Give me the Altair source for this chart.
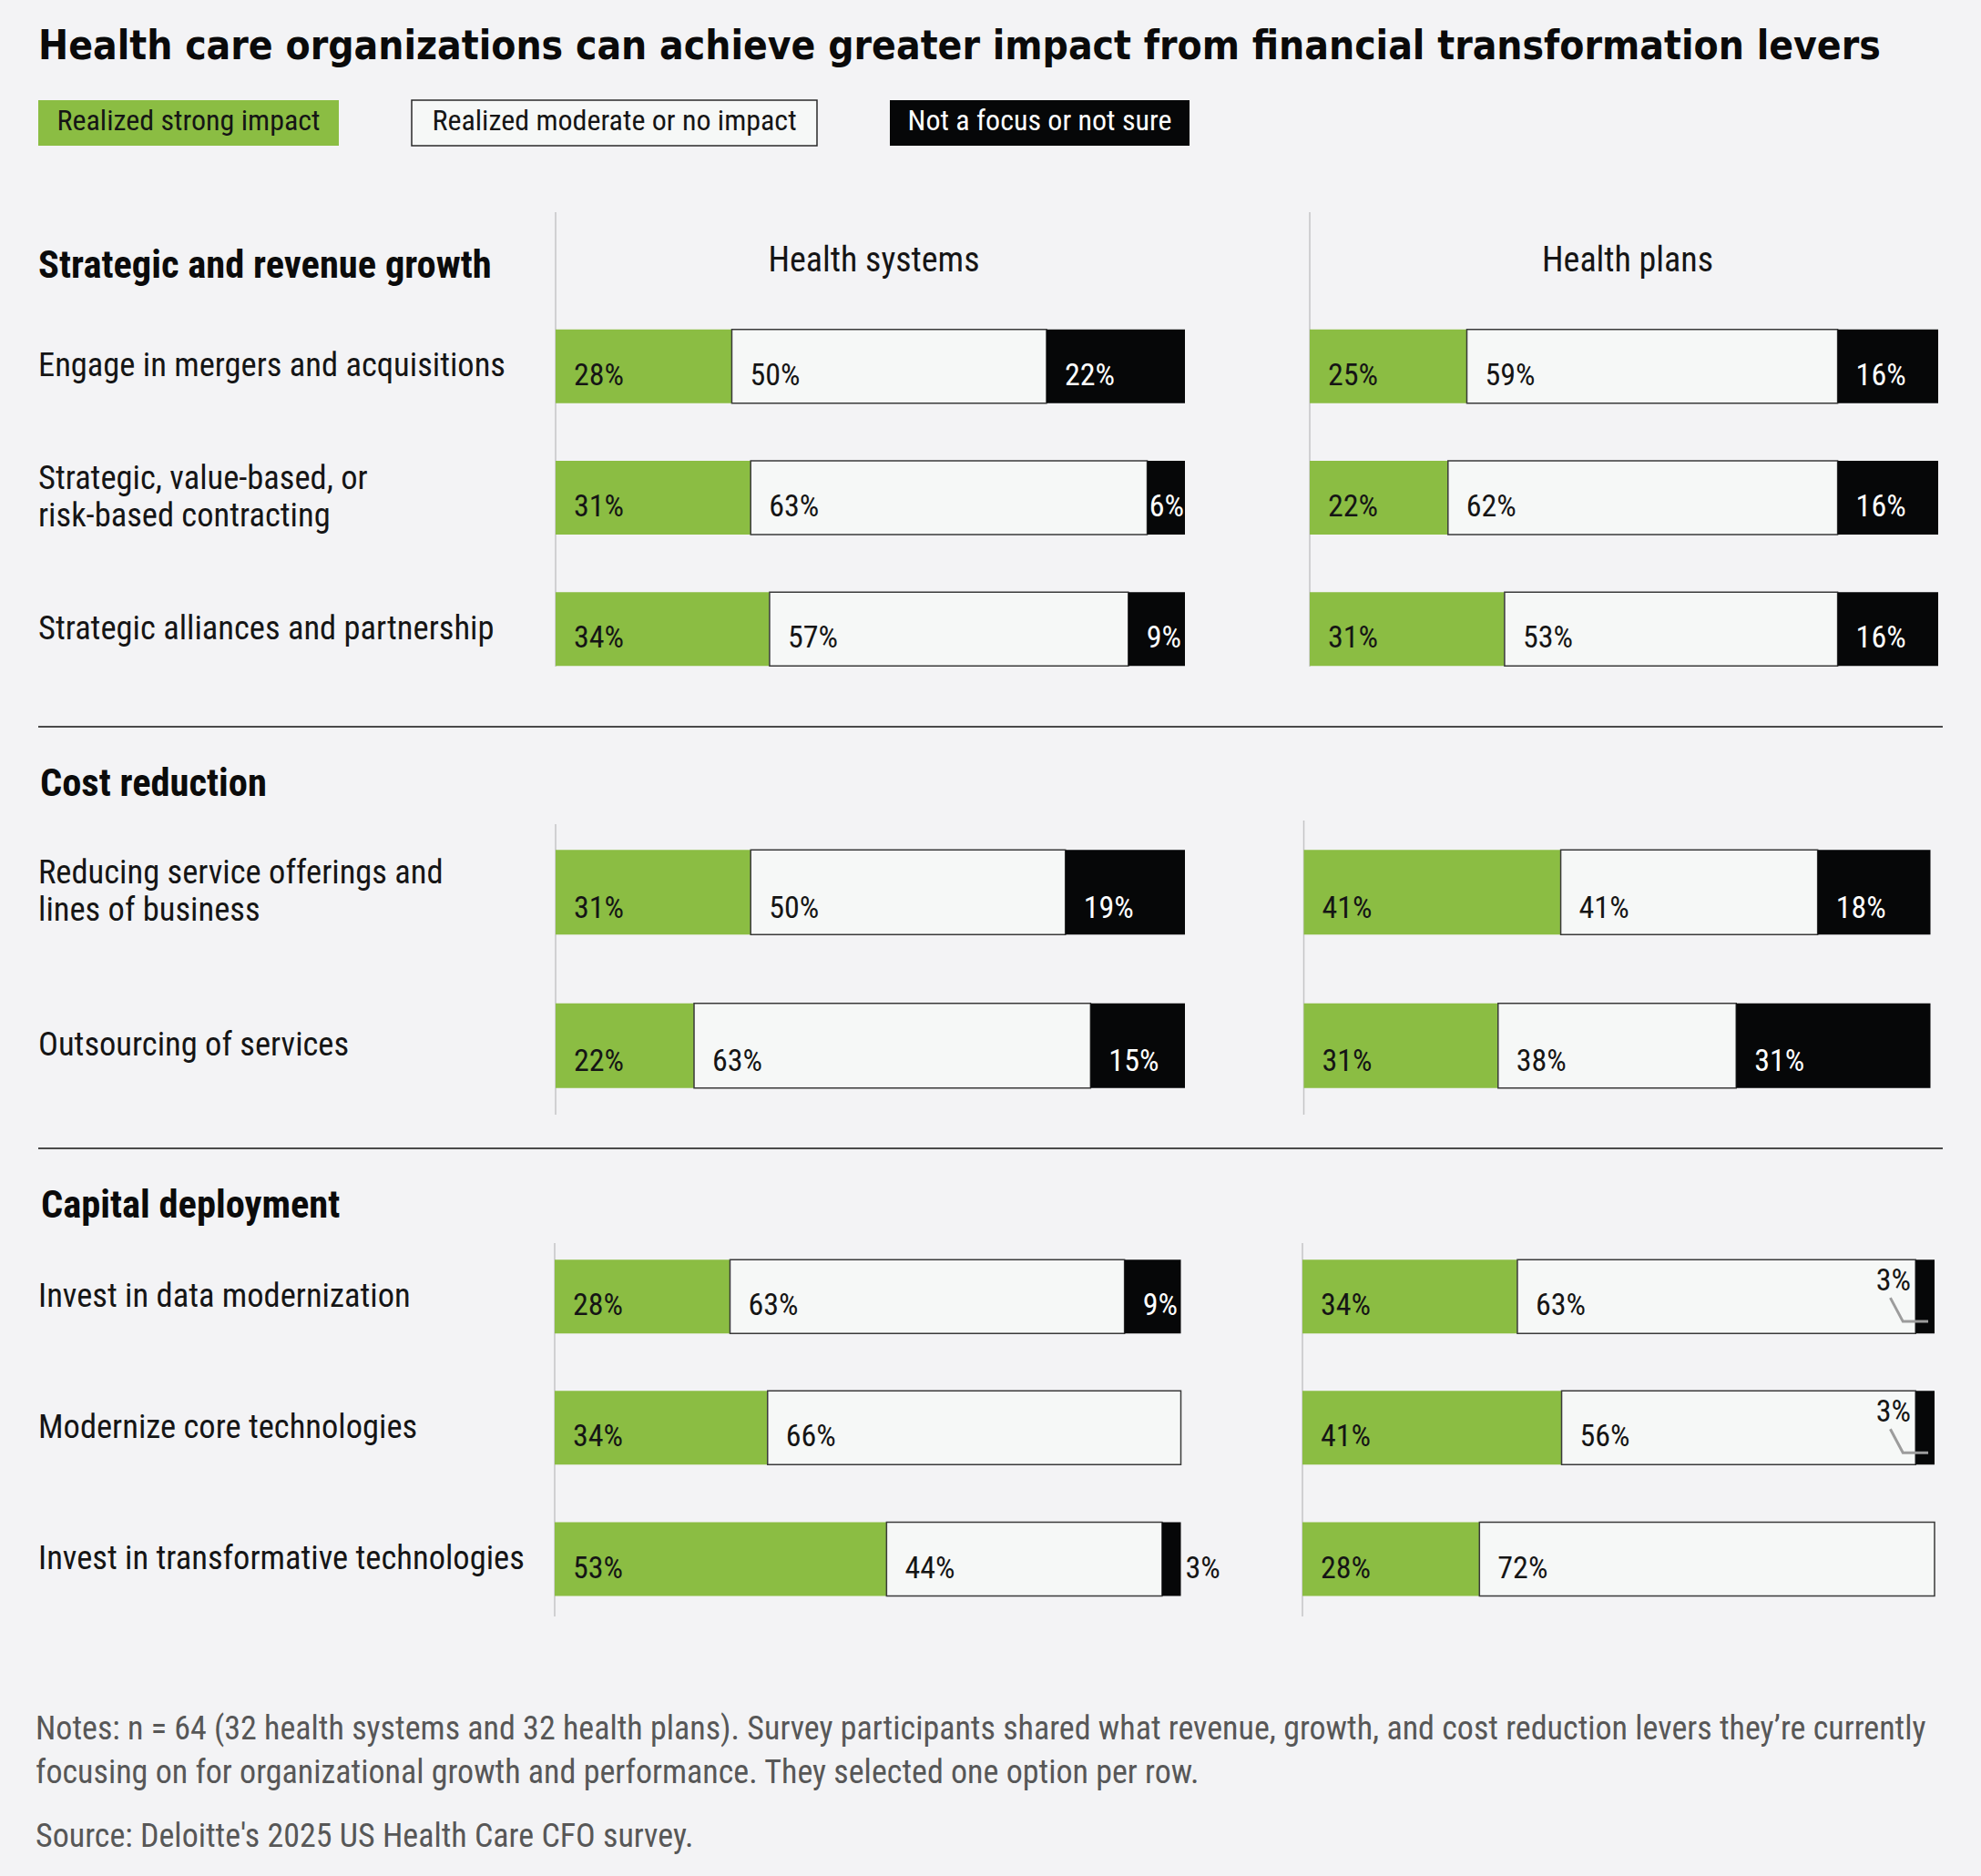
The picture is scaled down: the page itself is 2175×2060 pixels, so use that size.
import altair as alt
import pandas as pd

# ---------------- data ----------------
TITLE = "Health care organizations can achieve greater impact from financial transformation levers"
CATEGORIES = ["Realized strong impact", "Realized moderate or no impact", "Not a focus or not sure"]
COLORS = ["#8bbd43", "#f6f8f7", "#060708"]

PANELS = ["Health systems", "Health plans"]
SECTIONS = ["Strategic and revenue growth", "Cost reduction", "Capital deployment"]

ITEMS_GROWTH = [
    "Engage in mergers and acquisitions",
    "Strategic, value-based, or\nrisk-based contracting",
    "Strategic alliances and partnership",
]
ITEMS_COST = [
    "Reducing service offerings and\nlines of business",
    "Outsourcing of services",
]
ITEMS_CAPITAL = [
    "Invest in data modernization",
    "Modernize core technologies",
    "Invest in transformative technologies",
]

# shares (%) per item: [strong impact, moderate or none, not a focus / not sure]
SYSTEMS_GROWTH = [[28, 50, 22], [31, 63, 6], [34, 57, 9]]
PLANS_GROWTH = [[25, 59, 16], [22, 62, 16], [31, 53, 16]]
SYSTEMS_COST = [[31, 50, 19], [22, 63, 15]]
PLANS_COST = [[41, 41, 18], [31, 38, 31]]
SYSTEMS_CAPITAL = [[28, 63, 9], [34, 66, 0], [53, 44, 3]]
PLANS_CAPITAL = [[34, 63, 3], [41, 56, 3], [28, 72, 0]]

NOTES = [
    "Notes: n = 64 (32 health systems and 32 health plans). Survey participants shared what revenue, growth, and cost reduction levers they\u2019re currently",
    "focusing on for organizational growth and performance. They selected one option per row.",
]
SOURCE = "Source: Deloitte's 2025 US Health Care CFO survey."

# ---------------- layout (page pixels) ----------------
W_PAGE, H_PAGE = 2175, 2060
BG = "#f3f3f5"
FONT = "Roboto Condensed, DejaVu Sans Condensed, sans-serif"
TITLE_FONT = "DejaVu Sans Condensed, sans-serif"
INK = "#151515"
TEXT_X = 42
LINE_H = 41

LEGEND_BOXES = [(42, 372), (452, 897), (977, 1306)]

SECTION_LAYOUT = [
    dict(rows=(402.2, 690.8), bar=81, head=(42, 305), label_dy=20.5, sep=None,
         panels=[dict(x=(610, 1301), axis=(233, 732)), dict(x=(1438, 2128), axis=(233, 732))]),
    dict(rows=(979.7, 1148.3), bar=93, head=(44, 874), label_dy=28, sep=798,
         panels=[dict(x=(610, 1301), axis=(905, 1224)), dict(x=(1431.5, 2119.5), axis=(901, 1224))]),
    dict(rows=(1423.7, 1712.0), bar=81, head=(45, 1337), label_dy=20.5, sep=1261,
         panels=[dict(x=(609, 1296.5), axis=(1365, 1775)), dict(x=(1430, 2124), axis=(1365, 1775))]),
]

SECTION_DATA = [
    (ITEMS_GROWTH, SYSTEMS_GROWTH, PLANS_GROWTH),
    (ITEMS_COST, SYSTEMS_COST, PLANS_COST),
    (ITEMS_CAPITAL, SYSTEMS_CAPITAL, PLANS_CAPITAL),
]

color_scale = alt.Scale(domain=CATEGORIES, range=COLORS)


def one(values):
    return alt.Data(values=[values])


def label_mode(v, panel_idx):
    if v >= 8:
        return "in"
    if v >= 4:
        return "end"
    return "out" if panel_idx == 0 else "call"


def deco_text(t, x, y, size, weight="normal", color=INK, align="left", font=FONT):
    return alt.Chart(one({"t": t})).mark_text(
        align=align, baseline="alphabetic", font=font, fontSize=size,
        fontWeight=weight, color=color,
    ).encode(x=alt.value(x), y=alt.value(y), text="t:N")


def panel_layers(s_idx, p_idx, items, shares):
    L = SECTION_LAYOUT[s_idx]
    P = L["panels"][p_idx]
    n = len(items)
    pitch = (L["rows"][1] - L["rows"][0]) / (n - 1)
    half = L["bar"] / 2 / pitch

    recs = []
    for r, (item, vals) in enumerate(zip(items, shares)):
        for k, v in enumerate(vals):
            if v == 0:
                continue
            mode = label_mode(v, p_idx)
            recs.append(dict(item=item, row=r, cat=CATEGORIES[k], order=k, value=v,
                             label=f"{v}%", mode=mode,
                             tcol="#ffffff" if (k == 2 and mode in ("in", "end")) else INK))
    df = pd.DataFrame(recs)

    xs = alt.Scale(domain=[0, 100], range=list(P["x"]), nice=False, zero=True)
    ys = alt.Scale(domain=[0, n - 1], range=list(L["rows"]), nice=False, zero=False)

    base = alt.Chart(df).transform_stack(
        stack="value", groupby=["row"], as_=["x0", "x1"],
        sort=[alt.SortField("order", order="ascending")],
    ).transform_calculate(top=f"datum.row - {half}", bottom=f"datum.row + {half}")

    layers = []
    a0, a1 = P["axis"]
    layers.append(
        alt.Chart(one({})).mark_rule(color="#c4c4c6", strokeWidth=1.5).encode(
            x=alt.value(P["x"][0]), y=alt.value(a0), y2=alt.value(a1))
    )

    layers.append(
        base.mark_rect(stroke="#3a3a3a").encode(
            x=alt.X("x0:Q", scale=xs, axis=None),
            x2="x1:Q",
            y=alt.Y("top:Q", scale=ys, axis=None),
            y2="bottom:Q",
            fill=alt.Fill("cat:N", scale=color_scale, legend=None),
            strokeWidth=alt.condition("datum.order == 1", alt.value(1.5), alt.value(0)),
        )
    )

    specs = {
        "in": dict(field="x0", align="left", dx=20, dy=L["label_dy"]),
        "end": dict(field="x1", align="right", dx=-1, dy=L["label_dy"]),
        "out": dict(field="x1", align="left", dx=5, dy=L["label_dy"]),
        "call": dict(field="x1", align="right", dx=-26, dy=-7),
    }
    for mode, sp in specs.items():
        if (df["mode"] == mode).any():
            layers.append(
                base.transform_filter(alt.datum.mode == mode).mark_text(
                    align=sp["align"], dx=sp["dx"], dy=sp["dy"], font=FONT,
                    fontSize=34, baseline="alphabetic",
                ).encode(
                    x=alt.X(f"{sp['field']}:Q", scale=xs, axis=None),
                    y=alt.Y("row:Q", scale=ys, axis=None),
                    text="label:N",
                    color=alt.Color("tcol:N", scale=None),
                )
            )

    # elbow leaders for the callout labels
    call_rows = sorted(df.loc[df["mode"] == "call", "row"].unique())
    if call_rows:
        pts = []
        for r in call_rows:
            for j, (px, py) in enumerate([(93, 0.01), (95, 0.19), (99, 0.19)]):
                pts.append(dict(row=int(r), j=j, px=px, py=r + py))
        layers.append(
            alt.Chart(pd.DataFrame(pts)).mark_line(color="#9c9c9c", strokeWidth=3).encode(
                x=alt.X("px:Q", scale=xs, axis=None),
                y=alt.Y("py:Q", scale=ys, axis=None),
                detail="row:N",
                order="j:Q",
            )
        )

    if p_idx == 0:
        items_df = pd.DataFrame({"item": items, "row": range(n)})
        items_df["lines"] = items_df["item"].str.count("\n") + 1
        for nl in sorted(items_df["lines"].unique()):
            layers.append(
                alt.Chart(items_df[items_df["lines"] == nl]).mark_text(
                    align="left", baseline="middle", lineBreak="\n", lineHeight=LINE_H,
                    font=FONT, fontSize=36.5, color=INK, dy=-(nl - 1) * LINE_H / 2,
                ).encode(
                    x=alt.value(TEXT_X),
                    y=alt.Y("row:Q", scale=ys, axis=None),
                    text="item:N",
                )
            )
    return layers


layers = []

# background
layers.append(
    alt.Chart(one({})).mark_rect(color=BG).encode(
        x=alt.value(0), x2=alt.value(W_PAGE), y=alt.value(0), y2=alt.value(H_PAGE))
)

# title
layers.append(deco_text(TITLE, TEXT_X, 65, 44, weight="bold", color="#0a0a0a", font=TITLE_FONT))

# legend
for k, (cat, (bx0, bx1)) in enumerate(zip(CATEGORIES, LEGEND_BOXES)):
    layers.append(
        alt.Chart(one({"c": cat})).mark_rect(
            stroke="#2a2a2a", strokeWidth=1.5 if k == 1 else 0,
        ).encode(
            x=alt.value(bx0), x2=alt.value(bx1), y=alt.value(110), y2=alt.value(160),
            fill=alt.Fill("c:N", scale=color_scale, legend=None),
        )
    )
    layers.append(
        deco_text(cat, (bx0 + bx1) / 2, 143, 32, color="#ffffff" if k == 2 else INK, align="center")
    )

# sections
for s_idx, (items, sys_vals, plan_vals) in enumerate(SECTION_DATA):
    L = SECTION_LAYOUT[s_idx]
    if L["sep"] is not None:
        layers.append(
            alt.Chart(one({})).mark_rule(color="#4a4a4a", strokeWidth=2).encode(
                x=alt.value(42), x2=alt.value(2133), y=alt.value(L["sep"]))
        )
    hx, hy = L["head"]
    layers.append(deco_text(SECTIONS[s_idx], hx, hy, 42.5, weight="bold", color="#0b0b0b"))
    layers += panel_layers(s_idx, 0, items, sys_vals)
    layers += panel_layers(s_idx, 1, items, plan_vals)

# column headings
for p_idx, name in enumerate(PANELS):
    x0, x1 = SECTION_LAYOUT[0]["panels"][p_idx]["x"]
    layers.append(deco_text(name, (x0 + x1) / 2 + 4, 298.4, 38, align="center"))

# notes and source
layers.append(deco_text(NOTES[0], 39, 1910, 36, color="#575757"))
layers.append(deco_text(NOTES[1], 39, 1958, 36, color="#575757"))
layers.append(deco_text(SOURCE, 39, 2028, 36, color="#575757"))

chart = alt.layer(*layers).resolve_scale(
    x="independent", y="independent"
).properties(
    width=W_PAGE, height=H_PAGE, padding=0, background=BG,
    autosize=alt.AutoSizeParams(type="none"),
).configure_view(strokeWidth=0)

chart.save("out.html", embed_options={"renderer": "svg", "actions": False})
